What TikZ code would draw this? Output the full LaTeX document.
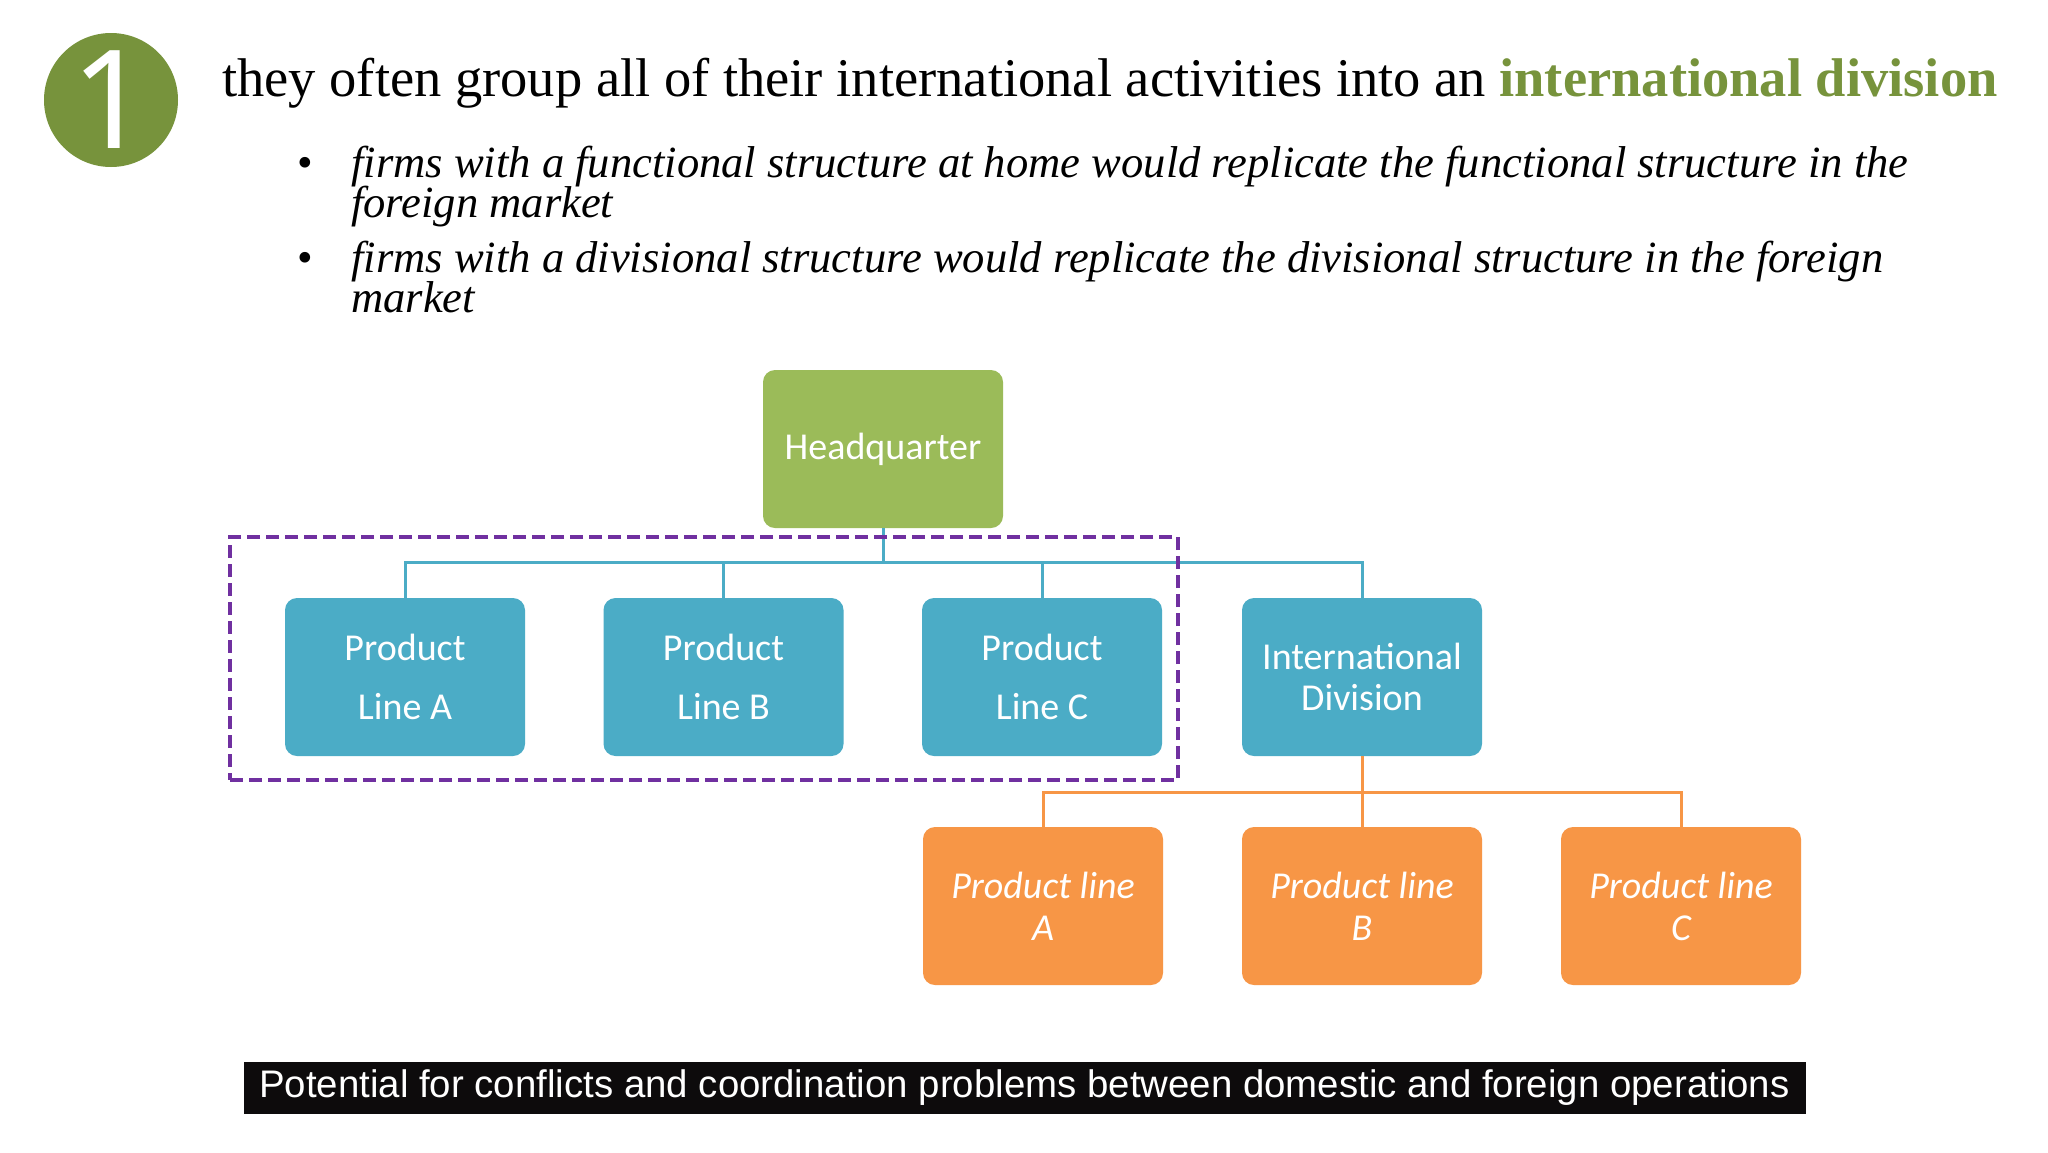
\documentclass[tikz,border=0pt]{standalone}
\usepackage{fontspec}
\setmainfont{Liberation Serif}
\newfontfamily\boxfont{Carlito}
\newfontfamily\arialfont{Liberation Sans}
\newfontfamily\digitfont{Noto Sans}
\definecolor{olive}{HTML}{77933C}
\definecolor{hqgreen}{HTML}{9BBB59}
\definecolor{boxblue}{HTML}{4BACC6}
\definecolor{linkblue}{HTML}{4BACC6}
\definecolor{boxorange}{HTML}{F79646}
\definecolor{grppurple}{HTML}{7030A0}
\definecolor{barblack}{HTML}{0D0B0C}
\tikzset{
  orgbox/.style={rounded corners=12pt, minimum width=240pt, minimum height=158pt,
    text=white, align=center, inner sep=0pt},
  hqbox/.style={orgbox, fill=hqgreen, font=\boxfont\fontsize{38}{46}\selectfont},
  bluebox/.style={orgbox, fill=boxblue, font=\boxfont\fontsize{38}{46}\selectfont},
  intlbox/.style={orgbox, fill=boxblue, font=\boxfont\fontsize{38}{41}\selectfont},
  orangebox/.style={orgbox, fill=boxorange, font=\boxfont\itshape\fontsize{38}{42}\selectfont},
  bluelink/.style={draw=linkblue, line width=3pt},
  orangelink/.style={draw=boxorange, line width=3pt},
  grpbox/.style={draw=grppurple, line width=4pt, dash pattern=on 13pt off 6pt,
    inner sep=0pt, minimum width=948pt, minimum height=243pt},
  titletext/.style={anchor=base west, inner sep=0pt, font=\fontsize{54.5}{62}\selectfont},
  bullettext/.style={anchor=base west, inner sep=0pt, font=\itshape\fontsize{44.6}{50}\selectfont},
  bulletdot/.style={anchor=base, inner sep=0pt, font=\fontsize{44.6}{50}\selectfont},
}
\begin{document}
\begin{tikzpicture}[x=1pt,y=-1pt]
\useasboundingbox (0,0) rectangle (2048,1152);
\fill[white] (0,0) rectangle (2048,1152);

% number badge
\node[circle, fill=olive, minimum size=134pt, inner sep=0pt, text=white,
  font=\digitfont\fontsize{137}{140}\selectfont] (badge) at (111,100) {1};

% title and bullets
\node[titletext] (title) at (222,96) {they often group all of their international activities into an \textcolor{olive}{\textbf{international division}}};
\node[bulletdot] (d1) at (305,177) {\textbullet};
\node[bullettext] (b1a) at (351,177) {firms with a functional structure at home would replicate the functional structure in the};
\node[bullettext] (b1b) at (351,217) {foreign market};
\node[bulletdot] (d2) at (305,272) {\textbullet};
\node[bullettext] (b2a) at (351,272) {firms with a divisional structure would replicate the divisional structure in the foreign};
\node[bullettext] (b2b) at (351,312) {market};

% org chart
\node[hqbox] (hq) at (883,449) {Headquarter};
\node[bluebox] (pa) at (405,677) {Product\\[13pt]Line A};
\node[bluebox] (pb) at (723.5,677) {Product\\[13pt]Line B};
\node[bluebox] (pc) at (1042,677) {Product\\[13pt]Line C};
\node[intlbox] (intl) at (1362,677) {International\\Division};
\node[orangebox] (oa) at (1043,906) {Product line\\A};
\node[orangebox] (ob) at (1362,906) {Product line\\B};
\node[orangebox] (oc) at (1681,906) {Product line\\C};

\coordinate (bus) at (0,562);
\coordinate (obus) at (0,792);
\draw[bluelink] (hq.south) -- (hq.south |- bus);
\draw[bluelink] (pa.north) -- (pa.north |- bus) -- (intl.north |- bus) -- (intl.north);
\draw[bluelink] (pb.north) -- (pb.north |- bus);
\draw[bluelink] (pc.north) -- (pc.north |- bus);
\draw[orangelink] (intl.south) -- (ob.north);
\draw[orangelink] (oa.north) -- (oa.north |- obus) -- (oc.north |- obus) -- (oc.north);

\node[grpbox] (grp) at (704,658.5) {};

% bottom banner
\node[fill=barblack, minimum width=1562pt, minimum height=52pt, inner sep=0pt, text=white,
  font=\arialfont\fontsize{38.4}{44}\selectfont] (bar) at (1024.5,1088)
  {Potential for conflicts and coordination problems between domestic and foreign operations};
\end{tikzpicture}
\end{document}
